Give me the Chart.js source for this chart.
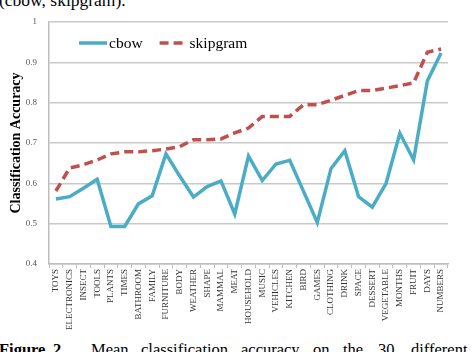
<!DOCTYPE html>
<html>
<head>
<meta charset="utf-8">
<script src="https://cdn.jsdelivr.net/npm/chart.js@4"></script>
<style>
  html, body { margin: 0; padding: 0; background: #fff; }
  #wrap { position: relative; width: 474px; height: 352px; overflow: hidden; }
  #chart_box { position: absolute; left: 0; top: 0; width: 474px; height: 336px; }
  .cap { position: absolute; font-family: "Liberation Serif", serif; color: #000; white-space: nowrap; }
  #top_cap { left: -1px; top: -10px; font-size: 17.5px; line-height: 20px; }
  .bw { position: absolute; top: 339.5px; font-size: 16.5px; line-height: 19px; }
</style>
</head>
<body>
<div id="wrap">
  <div class="cap" id="top_cap">(cbow, skipgram).</div>
  <div id="chart_box"><canvas id="graph_1"></canvas></div>
  <div class="cap bw" style="left:-1px"><b>Figure</b></div>
  <div class="cap bw" style="left:53px"><b>2.</b></div>
  <div class="cap bw" style="left:91px">Mean</div>
  <div class="cap bw" style="left:141px">classification</div>
  <div class="cap bw" style="left:241px">accuracy</div>
  <div class="cap bw" style="left:313px">on</div>
  <div class="cap bw" style="left:343px">the</div>
  <div class="cap bw" style="left:378px">30</div>
  <div class="cap bw" style="left:411px">different</div>
</div>
<script>
// data
const categories = ["TOYS", "ELECTRONICS", "INSECT", "TOOLS", "PLANTS", "TIMES", "BATHROOM", "FAMILY",
  "FURNITURE", "BODY", "WEATHER", "SHAPE", "MAMMAL", "MEAT", "HOUSEHOLD", "MUSIC", "VEHICLES",
  "KITCHEN", "BIRD", "GAMES", "CLOTHING", "DRINK", "SPACE", "DESSERT", "VEGETABLE", "MONTHS",
  "FRUIT", "DAYS", "NUMBERS"];
const cbow = [0.561, 0.567, 0.588, 0.610, 0.493, 0.493, 0.549, 0.569, 0.673, 0.618, 0.566, 0.592,
  0.606, 0.524, 0.668, 0.607, 0.648, 0.657, 0.580, 0.503, 0.637, 0.681, 0.567, 0.541, 0.600,
  0.724, 0.658, 0.854, 0.923];
const skipgram = [0.581, 0.638, 0.646, 0.658, 0.673, 0.678, 0.678, 0.681, 0.685, 0.691, 0.708, 0.708,
  0.710, 0.725, 0.737, 0.766, 0.766, 0.766, 0.795, 0.795, 0.806, 0.818, 0.830, 0.830, 0.836,
  0.842, 0.849, 0.925, 0.933];
const yTickLabels = ["0.4", "0.5", "0.6", "0.7", "0.8", "0.9", "1"];

// legend drawn inside the plot, top left
const innerLegend = {
  id: "innerLegend",
  afterDatasetsDraw(chart) {
    const { ctx, chartArea } = chart;
    let x = chartArea.left + 30;
    const y = chartArea.top + 21;
    ctx.save();
    ctx.font = '15.5px "Liberation Serif"';
    ctx.textBaseline = "middle";
    chart.data.datasets.forEach((ds) => {
      ctx.strokeStyle = ds.borderColor;
      ctx.lineWidth = ds.borderWidth;
      ctx.setLineDash(ds.borderDash || []);
      ctx.beginPath();
      ctx.moveTo(x, y);
      ctx.lineTo(x + 28, y);
      ctx.stroke();
      ctx.setLineDash([]);
      ctx.fillStyle = "#000";
      ctx.fillText(ds.label, x + 30, y + 1);
      x += 30 + ctx.measureText(ds.label).width + 17;
    });
    ctx.restore();
  },
};

const ctx = document.getElementById("graph_1");

new Chart(ctx, {
  type: "line",
  data: {
    labels: categories,
    datasets: [
      {
        label: "cbow",
        data: cbow,
        borderColor: "#4bacc6",
        borderWidth: 3.5,
        pointRadius: 0,
        tension: 0,
        fill: false,
      },
      {
        label: "skipgram",
        data: skipgram,
        borderColor: "#c0504d",
        borderWidth: 3.5,
        borderDash: [9, 5],
        pointRadius: 0,
        tension: 0,
        fill: false,
      },
    ],
  },
  options: {
    responsive: true,
    maintainAspectRatio: false,
    animation: false,
    layout: {
      padding: { top: 22, right: 26, left: 0, bottom: 0 },
    },
    plugins: {
      legend: { display: false },
      tooltip: { enabled: false },
    },
    scales: {
      y: {
        min: 0.4,
        max: 1,
        afterFit: (scale) => { scale.width = 49; },
        grid: {
          color: "#c9c9c9",
          lineWidth: 1.5,
          drawTicks: false,
        },
        border: { color: "#bdbdbd", width: 1.5 },
        ticks: {
          stepSize: 0.1,
          padding: 12,
          color: "#555",
          font: { family: "Liberation Serif", size: 9 },
          callback: (v, i) => yTickLabels[i],
        },
        title: {
          display: true,
          text: "Classification Accuracy",
          color: "#000",
          padding: { top: 8, bottom: 0 },
          font: { family: "Liberation Serif", size: 14, weight: "bold" },
        },
      },
      x: {
        offset: true,
        afterFit: (scale) => { scale.height = 72; },
        grid: {
          offset: true,
          drawOnChartArea: false,
          drawTicks: true,
          tickLength: 4,
          color: "#bdbdbd",
        },
        border: { color: "#bdbdbd", width: 1.5 },
        ticks: {
          autoSkip: false,
          minRotation: 90,
          maxRotation: 90,
          padding: 1,
          color: "#333",
          font: { family: "Liberation Serif", size: 9 },
        },
      },
    },
  },
  plugins: [innerLegend],
});
</script>
</body>
</html>
